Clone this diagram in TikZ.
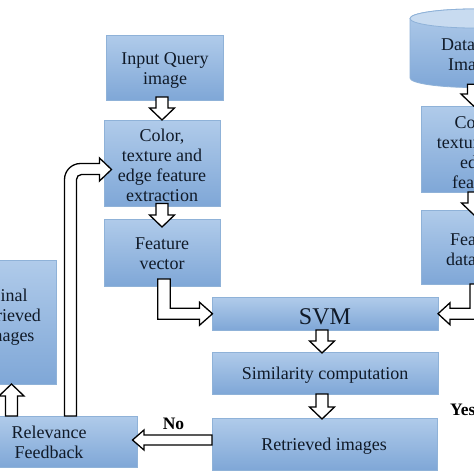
\documentclass[tikz,border=0pt]{standalone}
\usepackage{fontspec}
\setmainfont{Liberation Serif}
\usetikzlibrary{calc}
\definecolor{boxtop}{HTML}{B0CBEA}
\definecolor{boxbot}{HTML}{7FA7D7}
\definecolor{boxline}{HTML}{8FB2D8}
\definecolor{ink}{HTML}{101A28}
\tikzset{
  box/.style={rectangle,draw=boxline,line width=.8pt,top color=boxtop,bottom color=boxbot,inner sep=0pt,outer sep=0pt},
  lbl/.style={text=ink,align=center,font=\fontsize{18}{20}\selectfont,inner sep=0pt},
  arr/.style={draw=black,fill=white,line width=1.3pt,line join=miter,miter limit=4},
  ans/.style={text=black,font=\fontsize{17.5}{20}\selectfont\bfseries,inner sep=0pt}
}
% name x1 y1 x2 y2 textx texty text
\newcommand\bx[8]{%
  \node[box,minimum width={(#4-(#2))*1pt},minimum height={(#5-(#3))*1pt}] (#1) at ({(#2+#4)/2},{(#3+#5)/2}) {};
  \node[lbl] (#1-t) at (#6,#7) {#8};
}
% from to xshift overlap tipinset
\newcommand\blockdown[5]{%
  \draw[arr] let \p1=([xshift=#3pt]#1.south), \p2=(#2.north) in
   (\x1-6pt,\y1+#4pt) -- (\x1+6pt,\y1+#4pt) -- (\x1+6pt,\y2-#5pt+12pt) -- (\x1+12.5pt,\y2-#5pt+12pt)
   -- (\x1,\y2-#5pt) -- (\x1-12.5pt,\y2-#5pt+12pt) -- (\x1-6pt,\y2-#5pt+12pt) -- cycle;
}
\begin{document}
\begin{tikzpicture}[x=1pt,y=-1pt]
\useasboundingbox (0,0) rectangle (474,474);
\clip (0,0) rectangle (474,474);
\fill[white] (0,0) rectangle (474,474);
% database cylinder
\path[top color=boxtop,bottom color=boxbot,draw=boxline,line width=.8pt]
  (410,18.5) -- (410,78) arc[x radius=64,y radius=9.5,start angle=180,end angle=0] -- (538,18.5) arc[x radius=64,y radius=9.5,start angle=0,end angle=-180] -- cycle;
\path[fill=boxtop!70!white,draw=boxline,line width=.8pt] (474,18.5) ellipse[x radius=64,y radius=9.5];
\node[lbl,minimum width=128pt,minimum height=78pt] (db) at (474,48) {};
\node[lbl] (db-t) at (474,56) {Database\\Images};
\bx{input}{106.5}{35}{223}{100}{165}{70}{Input Query\\image}
\bx{color}{104}{120}{220}{206}{162}{165}{Color,\\texture and\\edge feature\\extraction}
\bx{fv}{104}{219}{220}{286}{162}{254}{Feature\\vector}
\bx{svm}{212}{297.5}{438}{330}{325}{317}{\fontsize{24}{28}\selectfont SVM}
\bx{sim}{212}{352}{438}{394}{325}{375.5}{Similarity computation}
\bx{ret}{212}{418}{437}{470}{324}{446.5}{Retrieved images}
\bx{rel}{-5}{416}{137}{467}{49}{442}{Relevance\\Feedback}
\bx{final}{-38}{260}{56}{384}{9}{317}{\fontsize{18}{21.5}\selectfont Final\\retrieved\\images}
\bx{colorr}{421}{106}{533}{192}{477}{152}{Color,\\texture and\\edge\\feature}
\bx{fdb}{421}{210}{533}{284}{477}{250}{Feature\\database}
% straight block arrows
\blockdown{input}{color}{-2.75}{3}{0}
\blockdown{color}{fv}{0}{2.5}{8}
\blockdown{db}{colorr}{-0.5}{3}{0}
\blockdown{colorr}{fdb}{-3}{0}{5}
\blockdown{svm}{sim}{-3}{0}{1}
\blockdown{sim}{ret}{-3}{0}{1}
% No: retrieved -> relevance
\draw[arr] let \p1=(ret.west), \p2=(rel.east) in
  (\x1,\y1+9pt) -- (\x2+7pt,\y1+9pt) -- (\x2+7pt,\y1+14pt) -- (\x2-4.5pt,\y1+4pt)
  -- (\x2+7pt,\y1-6pt) -- (\x2+7pt,\y1-1pt) -- (\x1,\y1-1pt) -- cycle;
% relevance -> final
\draw[arr] let \p1=([xshift=-54.5pt]rel.north), \p2=(final.south) in
  (\x1-6pt,\y1) -- (\x1+6pt,\y1) -- (\x1+6pt,\y2-12pt) -- (\x1+12.5pt,\y2-12pt)
  -- (\x1,\y2) -- (\x1-12.5pt,\y2-12pt) -- (\x1-6pt,\y2-12pt) -- cycle;
% feature vector -> svm
\draw[arr] let \p1=([xshift=1.75pt]fv.south), \p2=(svm.west) in
  (\x1-6pt,\y1+7pt) -- (\x1+6.5pt,\y1+7pt) -- (\x1+6.5pt,\y2+5.5pt) -- (\x2-12.5pt,\y2+5.5pt)
  -- (\x2-12.5pt,\y2+11.5pt) -- (\x2+0.5pt,\y2) -- (\x2-12.5pt,\y2-11.5pt) -- (\x2-12.5pt,\y2-5.5pt)
  -- (\x1-6pt,\y2-5.5pt) -- cycle;
% feature database -> svm
\draw[arr] let \p1=([xshift=-1pt]fdb.south), \p2=(svm.east) in
  (\x1+30pt,\y1) -- (\x1-6pt,\y1) -- (\x1-6pt,\y2+5.5pt) -- (\x2+12pt,\y2+5.5pt) -- (\x2+12pt,\y2+11pt)
  -- (\x2,\y2) -- (\x2+12pt,\y2-11pt) -- (\x2+12pt,\y2-5.5pt) -- (\x1+30pt,\y2-5.5pt) -- cycle;
% relevance -> color (curved)
\draw[arr] let \p1=([xshift=4.5pt]rel.north), \p2=([yshift=-6.5pt]color.west) in
  (\x1-6pt,\y1) -- (\x1-6pt,\y2+6pt-16pt) arc[start angle=180,end angle=90,radius=16pt]
  -- (\x2-4.5pt,\y2+6pt) -- (\x2-4.5pt,\y2+11.5pt) -- (\x2+7.5pt,\y2) -- (\x2-4.5pt,\y2-11.5pt)
  -- (\x2-4.5pt,\y2-5pt) -- (\x1+11pt,\y2-5pt) arc[start angle=90,end angle=180,radius=5pt] -- (\x1+6pt,\y1) -- cycle;
\node[ans] (no) at (173.5,424) {No};
\node[ans,anchor=west] (yes) at (450,410) {Yes};
\end{tikzpicture}
\end{document}
